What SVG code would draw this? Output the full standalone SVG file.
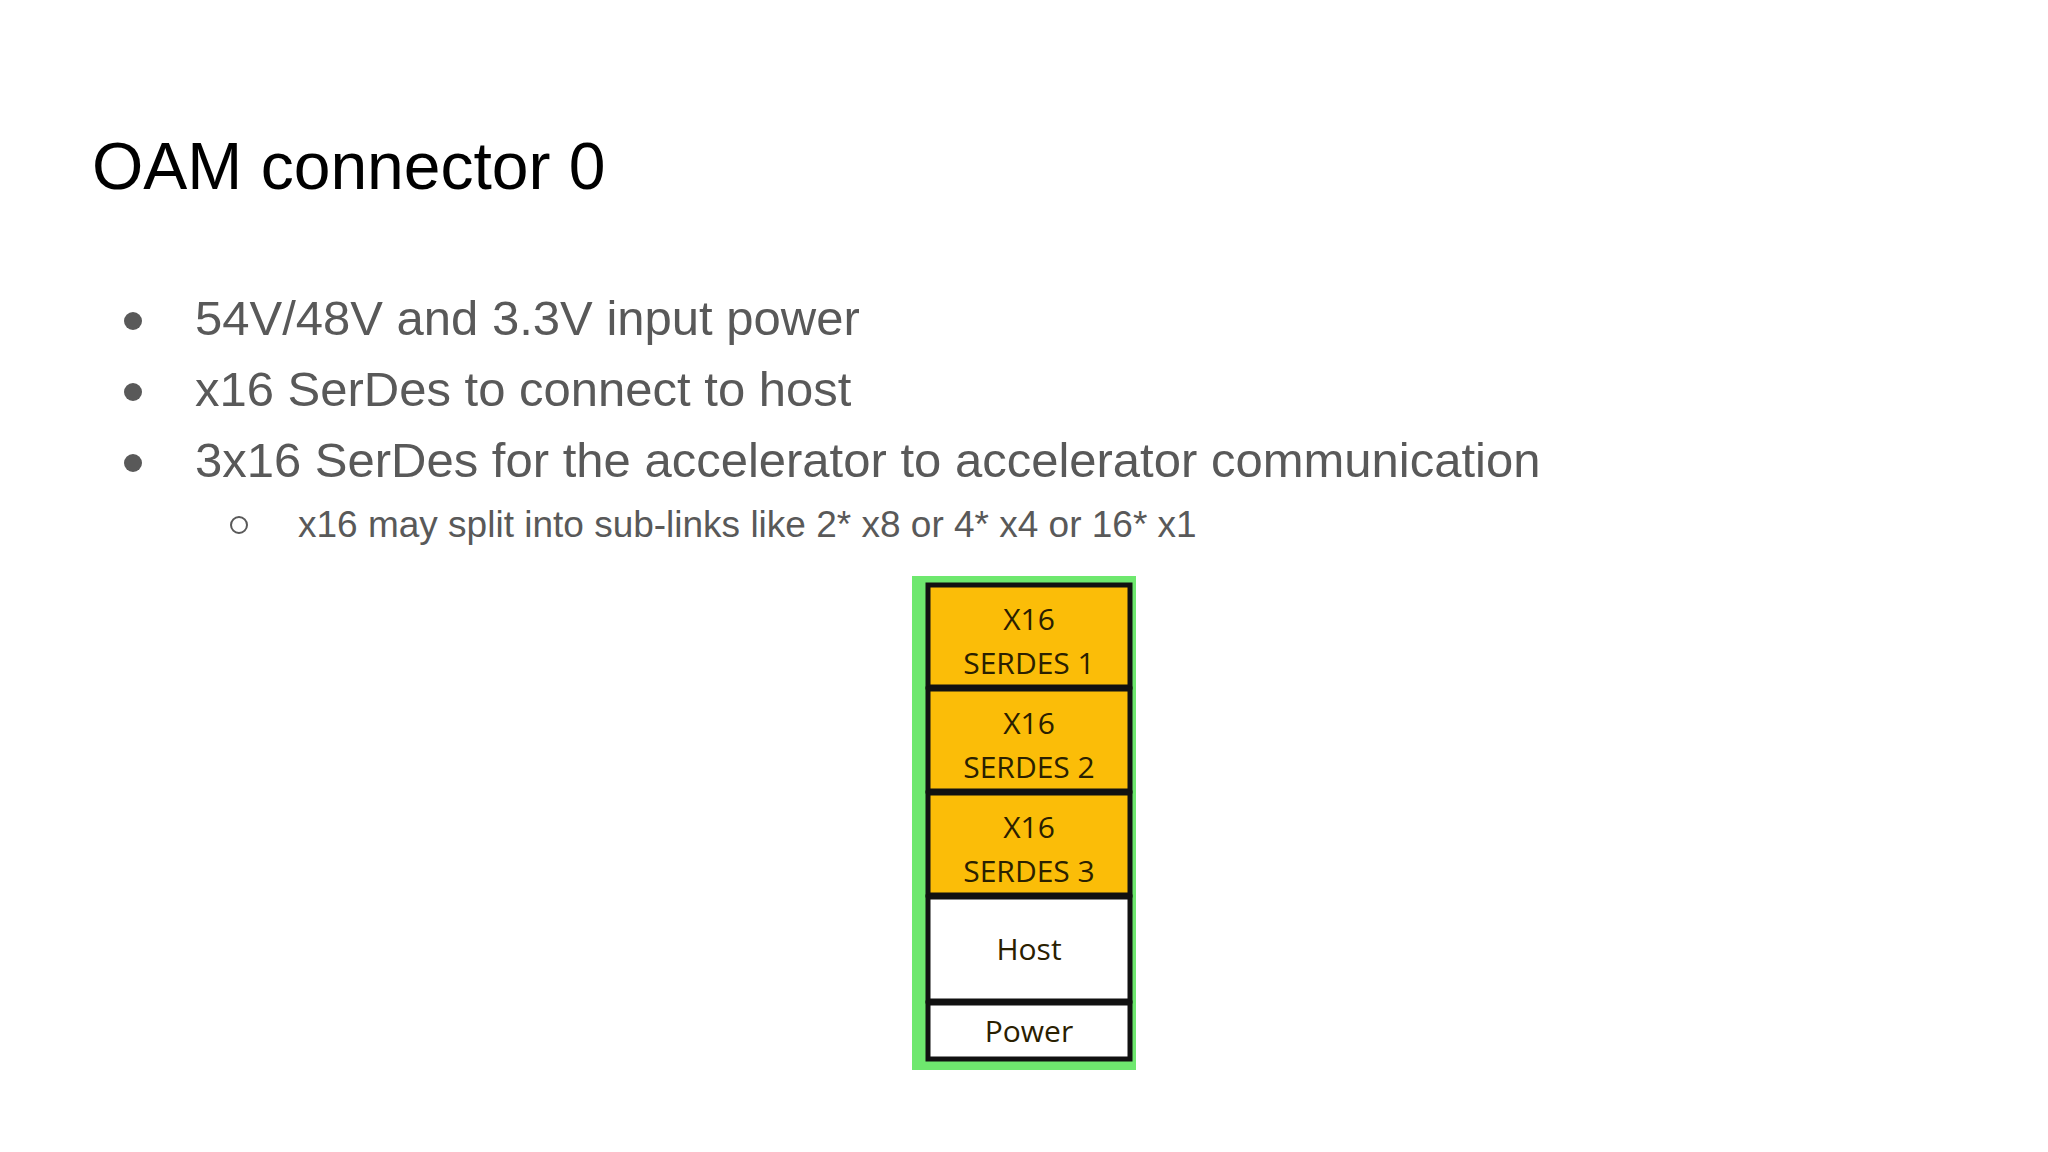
<svg xmlns="http://www.w3.org/2000/svg" width="2048" height="1152" viewBox="0 0 2048 1152">
<style>
.t{font-family:Arial,"Liberation Sans",sans-serif}
.b{font-family:Arial,"Liberation Sans",sans-serif;font-size:49px;fill:#595959}
.s{font-family:Arial,"Liberation Sans",sans-serif;font-size:37px;fill:#595959}
.box rect{stroke:#111;stroke-width:5}
.box text{font-family:"Open Sans","Liberation Sans",sans-serif;font-size:30px;fill:#2a2000;text-anchor:middle}
</style>
<rect width="2048" height="1152" fill="#fff"/>
<text class="t" x="92" y="189" font-size="66" fill="#000">OAM connector 0</text>
<circle cx="133" cy="321" r="9" fill="#595959"/>
<circle cx="133" cy="392" r="9" fill="#595959"/>
<circle cx="133" cy="463" r="9" fill="#595959"/>
<text class="b" x="195" y="335">54V/48V and 3.3V input power</text>
<text class="b" x="195" y="406">x16 SerDes to connect to host</text>
<text class="b" x="195" y="477">3x16 SerDes for the accelerator to accelerator communication</text>
<circle cx="239" cy="525" r="8" fill="none" stroke="#595959" stroke-width="2"/>
<text class="s" x="298" y="537">x16 may split into sub-links like 2* x8 or 4* x4 or 16* x1</text>
<rect x="912" y="576" width="224" height="494" fill="#6ee86e"/>
<g id="serdes1" class="box"><rect x="928" y="585" width="202" height="102" fill="#fbbd08"/><text x="1029" y="630">X16</text><text x="1029" y="674">SERDES 1</text></g>
<g id="serdes2" class="box"><rect x="928" y="689" width="202" height="102" fill="#fbbd08"/><text x="1029" y="734">X16</text><text x="1029" y="778">SERDES 2</text></g>
<g id="serdes3" class="box"><rect x="928" y="793" width="202" height="102" fill="#fbbd08"/><text x="1029" y="838">X16</text><text x="1029" y="882">SERDES 3</text></g>
<g id="host" class="box"><rect x="928" y="897" width="202" height="104" fill="#fff"/><text x="1029" y="960">Host</text></g>
<g id="power" class="box"><rect x="928" y="1003" width="202" height="56" fill="#fff"/><text x="1029" y="1042">Power</text></g>
<g id="connectors"/>
</svg>
